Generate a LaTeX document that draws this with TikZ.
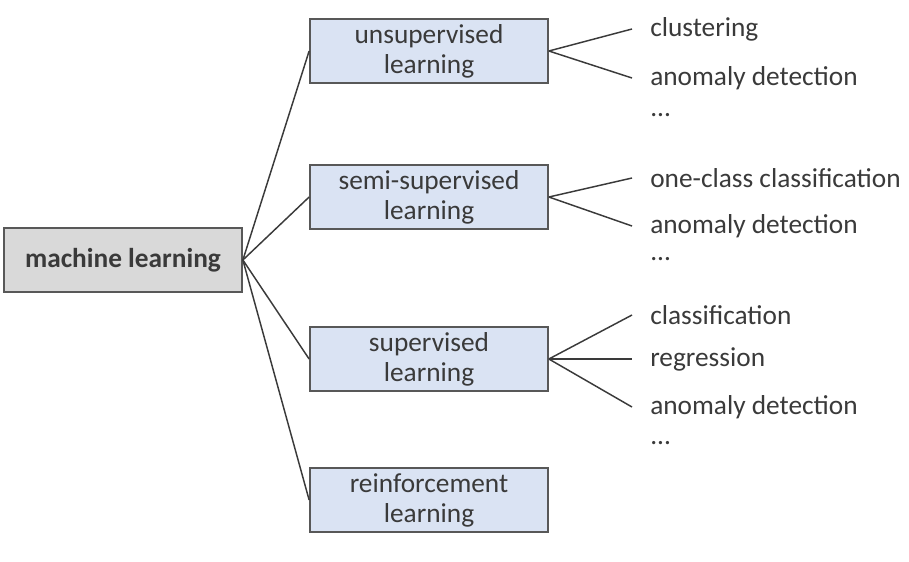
\documentclass[tikz,border=0pt]{standalone}
\usepackage{fontspec}
\setmainfont{Carlito}
\definecolor{boxblue}{HTML}{DAE3F3}
\definecolor{boxgray}{HTML}{D9D9D9}
\definecolor{inkgray}{HTML}{3A3A3A}
\tikzset{
	mlbox/.style={draw=inkgray!85,line width=1.3pt,fill=boxblue,minimum width=178.5pt,minimum height=48pt,align=center,text=inkgray,font=\fontsize{20.5}{22.5}\selectfont},
	leaf/.style={anchor=west,inner xsep=13.5pt,inner ysep=0.5pt,text=inkgray,font=\fontsize{20.5}{22.5}\selectfont},
	branch/.style={draw=inkgray,line width=1.1pt},
}
\begin{document}
\begin{tikzpicture}[x=0.75pt,y=-0.75pt]
	\useasboundingbox (0,0) rectangle (909,561);
	% left root
	\node[mlbox,fill=boxgray,font=\fontsize{20.5}{22.5}\selectfont\bfseries] (ml) at (123,260) {machine learning};
	% middle column
	\node[mlbox] (unsup) at (429,51) {unsupervised\\learning};
	\node[mlbox] (semi) at (429,197) {semi-supervised\\learning};
	\node[mlbox] (sup) at (429,359) {supervised\\learning};
	\node[mlbox] (reinf) at (429,500) {reinforcement\\learning};
	\foreach \b in {unsup,semi,sup,reinf}
		\draw[branch] (ml.east)--(\b.west);
	% right column
	\node[leaf] (clust) at (632,29) {clustering};
	\node[leaf] (anom1) at (632,78) {anomaly detection};
	\node[leaf] (dots1) at (632,115) {...};
	\node[leaf] (occ) at (632,178) {one-class classification};
	\node[leaf] (anom2) at (632,226) {anomaly detection};
	\node[leaf] (dots2) at (632,259) {...};
	\node[leaf] (cls) at (632,315) {classification};
	\node[leaf] (regr) at (632,359) {regression};
	\node[leaf] (anom3) at (632,407) {anomaly detection};
	\node[leaf] (dots3) at (632,443) {...};
	\foreach \a/\b in {unsup/clust,unsup/anom1,semi/occ,semi/anom2,sup/cls,sup/regr,sup/anom3}
		\draw[branch] (\a.east)--(\b.west);
\end{tikzpicture}
\end{document}
